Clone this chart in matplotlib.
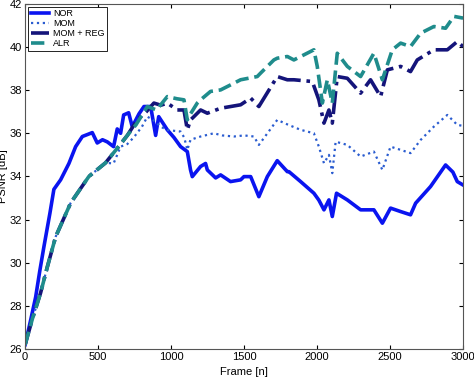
import matplotlib.pyplot as plt

plt.rcParams['font.family'] = ['Liberation Sans', 'DejaVu Sans']

# NOR (solid)
nor_x = [0, 40, 72, 100, 129, 170, 197, 243, 300, 346, 392, 430, 460, 494, 530, 563, 606,
         631, 654, 675, 709, 734, 780, 814, 860, 894, 915, 974, 1020, 1065, 1111, 1133, 1145,
         1202, 1236, 1248, 1305, 1339, 1407, 1476, 1499, 1545, 1601, 1659, 1727, 1796, 1807,
         1887, 1978, 2012, 2047, 2081, 2104, 2133, 2207, 2298, 2389, 2447, 2503, 2572, 2640,
         2675, 2777, 2880, 2930, 2960, 3000]
nor_y = [26.2, 27.4, 28.4, 29.6, 30.75, 32.3, 33.4, 33.84, 34.6, 35.38, 35.85, 35.95, 36.03, 35.55,
         35.7, 35.6, 35.38, 36.2, 36.0, 36.85, 36.95, 36.3, 36.9, 37.24, 37.24, 35.9, 36.77, 36.16,
         35.8, 35.38, 35.15, 34.3, 33.99, 34.46, 34.6, 34.3, 33.93, 34.07, 33.76, 33.84, 33.99,
         33.99, 33.06, 33.99, 34.73, 34.22, 34.22, 33.76, 33.22, 32.9, 32.45, 32.91, 32.14, 33.22,
         32.91, 32.45, 32.45, 31.83, 32.53, 32.37, 32.22, 32.76, 33.53, 34.53, 34.2, 33.76, 33.6]

# MOM (dotted)
mom_x = [0, 50, 106, 152, 209, 312, 437, 551, 606, 654, 700, 743, 800, 837, 880, 930, 974,
         1065, 1090, 1111, 1133, 1202, 1293, 1350, 1430, 1500, 1567, 1601, 1727, 1800, 1887,
         1978, 2012, 2047, 2081, 2104, 2127, 2207, 2298, 2389, 2447, 2503, 2572, 2640, 2709,
         2800, 2892, 2960, 3000]
mom_y = [26.2, 27.4, 28.6, 29.8, 31.2, 32.77, 34.0, 34.63, 34.6, 35.38, 35.5, 35.8, 36.3, 36.77,
         36.6, 36.3, 36.15, 36.08, 35.8, 35.23, 35.7, 35.85, 36.0, 35.9, 35.85, 35.9, 35.85,
         35.46, 36.62, 36.4, 36.16, 36.0, 35.38, 34.61, 35.0, 34.15, 35.61, 35.46, 34.92, 35.15,
         34.3, 35.38, 35.23, 35.08, 35.69, 36.31, 36.85, 36.39, 36.34]

# MOM + REG (dash-dot)
reg_x = [0, 50, 106, 152, 209, 312, 437, 551, 640, 700, 768, 830, 882, 930, 974, 1042, 1088,
         1111, 1133, 1156, 1202, 1248, 1339, 1476, 1545, 1601, 1727, 1796, 1841, 1967, 2012,
         2047, 2081, 2104, 2138, 2207, 2298, 2366, 2435, 2481, 2572, 2640, 2686, 2800, 2892,
         2960, 3000]
reg_y = [26.2, 27.4, 28.6, 29.8, 31.2, 32.77, 34.0, 34.63, 35.38, 35.9, 36.62, 37.0, 37.4, 37.3,
         37.4, 37.08, 37.08, 36.16, 36.62, 36.77, 37.08, 36.93, 37.16, 37.32, 37.63, 37.24,
         38.63, 38.48, 38.48, 38.4, 37.55, 36.47, 37.08, 36.47, 38.63, 38.55, 37.86, 38.48,
         37.7, 38.94, 39.1, 38.86, 39.4, 39.87, 39.87, 40.25, 40.02]

# ALR (dashed)
alr_x = [0, 50, 106, 152, 209, 312, 437, 551, 640, 700, 760, 837, 900, 974, 1040, 1088, 1111,
         1133, 1179, 1202, 1270, 1339, 1430, 1476, 1590, 1613, 1704, 1727, 1796, 1841, 1978,
         2001, 2036, 2070, 2104, 2138, 2207, 2298, 2389, 2447, 2515, 2572, 2640, 2709, 2800,
         2880, 2937, 3000]
alr_y = [26.2, 27.4, 28.6, 29.8, 31.2, 32.77, 34.0, 34.63, 35.38, 35.9, 36.4, 37.24, 37.08, 37.7,
         37.6, 37.55, 36.62, 36.9, 37.4, 37.55, 37.94, 38.01, 38.32, 38.48, 38.63, 38.79, 39.4,
         39.48, 39.56, 39.4, 39.87, 39.1, 37.4, 38.48, 37.4, 39.71, 39.1, 38.63, 39.71, 38.48,
         39.87, 40.18, 40.02, 40.64, 40.95, 40.87, 41.42, 41.34]

fig = plt.figure(figsize=(4.74, 3.86), dpi=100)
ax = fig.add_axes([0.053, 0.096, 0.924, 0.894])

ax.plot(nor_x, nor_y, '-', color='#0a14f0', lw=2.6, label='NOR')
ax.plot(mom_x, mom_y, ':', color='#2a5cd0', lw=1.6, label='MOM')
ax.plot(reg_x, reg_y, '-.', color='#14147a', lw=2.6, label='MOM + REG')
ax.plot(alr_x, alr_y, '--', color='#1f8c8c', lw=2.6, label='ALR')

ax.set_xlim(0, 3000)
ax.set_ylim(26, 42)
ax.set_xticks(range(0, 3001, 500))
ax.set_yticks(range(26, 43, 2))
ax.tick_params(direction='in', top=True, right=True, labelsize=8, length=3, pad=2)
for s in ax.spines.values():
    s.set_color('#555555')
    s.set_linewidth(0.8)

ax.set_xlabel('Frame [n]', fontsize=8, labelpad=4)
ax.set_ylabel('PSNR [dB]', fontsize=8)
ax.yaxis.set_label_coords(-0.038, 0.5)

leg = ax.legend(loc='upper left', fontsize=6.5, fancybox=False, framealpha=1,
                edgecolor='black', borderpad=0.3, labelspacing=0.1, handlelength=2.0,
                handletextpad=0.5, borderaxespad=0.3)
leg.get_frame().set_linewidth(0.6)

fig.savefig('out.png', dpi=100)
